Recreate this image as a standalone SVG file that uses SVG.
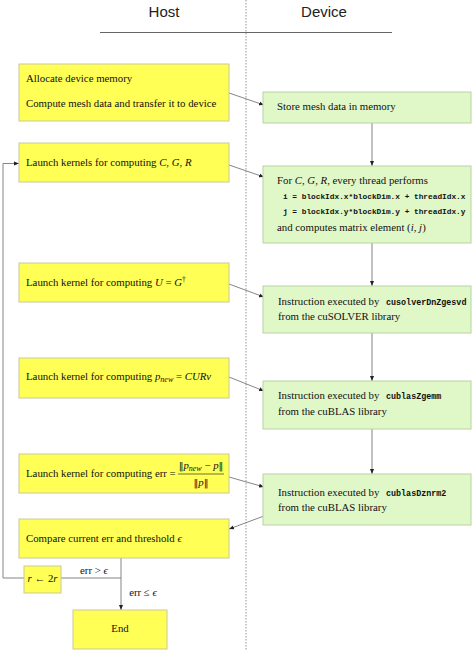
<svg xmlns="http://www.w3.org/2000/svg" width="474" height="651" viewBox="0 0 474 651">
<defs>
<marker id="ah" viewBox="0 0 10 10" refX="10" refY="5" markerWidth="5" markerHeight="5" orient="auto" markerUnits="userSpaceOnUse">
<path d="M0,1 L10,5 L0,9 z" fill="#222"/>
</marker>
</defs>
<style>
.host{fill:#ffff55;stroke:#c9c99a;stroke-width:1}
.dev{fill:#e0f7c8;stroke:#b9d3a3;stroke-width:1}
.t{font-family:"Liberation Serif","Times New Roman",serif;font-size:10.8px;fill:#111}
.m{font-family:"Liberation Mono","Courier New",monospace;font-size:7.8px;font-weight:bold;fill:#111}
.m2{font-family:"Liberation Mono","Courier New",monospace;font-size:8.4px;font-weight:bold;fill:#111}
.h{font-family:"Liberation Sans",Arial,sans-serif;font-size:15px;fill:#222}
.c{fill:none;stroke:#777;stroke-width:0.9}
.ca{fill:none;stroke:#777;stroke-width:0.9;marker-end:url(#ah)}
.n{font-family:"DejaVu Serif",serif;font-size:9.5px;font-weight:normal}
</style>
<g id="header">
<text class="h" x="164" y="17" text-anchor="middle">Host</text>
<text class="h" x="324" y="17" text-anchor="middle">Device</text>
<line x1="100" y1="32.5" x2="392" y2="32.5" stroke="#666" stroke-width="1"/>
<line x1="246" y1="0" x2="246" y2="651" stroke="#888" stroke-width="0.9" stroke-dasharray="1.5,1.5"/>
</g>
<g id="connectors">
<path class="ca" d="M229,93 L264,105"/>
<path class="ca" d="M229,165 L264,177"/>
<path class="ca" d="M229,284 L264,297"/>
<path class="ca" d="M229,377 L264,391"/>
<path class="ca" d="M229,477 L264,487"/>
<path class="ca" d="M264,516 L229,529"/>
<path class="ca" d="M372,123 L372,166"/>
<path class="ca" d="M372,243 L372,286"/>
<path class="ca" d="M372,333 L372,381"/>
<path class="ca" d="M372,429 L372,474"/>
<path class="c" d="M121,558 L121,578 L61,578"/>
<path class="ca" d="M24,578 L3,578 L3,163.5 L19,163.5"/>
<path class="ca" d="M121,578 L121,610"/>
<text class="t" x="94" y="574" text-anchor="middle">err &gt; <tspan font-style="italic">ϵ</tspan></text>
<text class="t" x="143" y="596" text-anchor="middle">err ≤ <tspan font-style="italic">ϵ</tspan></text>
</g>
<g id="n1">
<rect class="host" x="19" y="64" width="210" height="57"/>
<text class="t" x="26" y="82">Allocate device memory</text>
<text class="t" x="26" y="107">Compute mesh data and transfer it to device</text>
</g>
<g id="n2">
<rect class="host" x="19" y="143" width="210" height="39"/>
<text class="t" x="26" y="166">Launch kernels for computing <tspan font-style="italic">C</tspan>, <tspan font-style="italic">G</tspan>, <tspan font-style="italic">R</tspan></text>
</g>
<g id="n3">
<rect class="host" x="19" y="263" width="210" height="39"/>
<text class="t" x="26" y="286">Launch kernel for computing <tspan font-style="italic">U</tspan> = <tspan font-style="italic">G</tspan><tspan dy="-4" font-size="7.5">†</tspan></text>
</g>
<g id="n4">
<rect class="host" x="19" y="358" width="210" height="40"/>
<text class="t" x="26" y="380">Launch kernel for computing <tspan font-style="italic">p</tspan><tspan font-style="italic" font-size="8" dy="2">new</tspan><tspan dy="-2"> = </tspan><tspan font-style="italic">CURv</tspan></text>
</g>
<g id="n5">
<rect class="host" x="19" y="454" width="210" height="39"/>
<text class="t" x="26" y="477">Launch kernel for computing err =</text>
<text class="t" x="201" y="469" text-anchor="middle"><tspan class="n">‖</tspan><tspan font-style="italic">p</tspan><tspan font-style="italic" font-size="8" dy="2">new</tspan><tspan dy="-2"> − </tspan><tspan font-style="italic">p</tspan><tspan class="n">‖</tspan></text>
<line x1="178" y1="474" x2="224" y2="474" stroke="#111" stroke-width="0.6"/>
<text class="t" x="201" y="486" text-anchor="middle"><tspan class="n">‖</tspan><tspan font-style="italic">p</tspan><tspan class="n">‖</tspan></text>
</g>
<g id="n6">
<rect class="host" x="19" y="519" width="210" height="39"/>
<text class="t" x="26" y="542">Compare current err and threshold <tspan font-style="italic">ϵ</tspan></text>
</g>
<g id="n7">
<rect class="host" x="24" y="566" width="37" height="27"/>
<text class="t" x="42.5" y="582" text-anchor="middle"><tspan font-style="italic">r</tspan> ← 2<tspan font-style="italic">r</tspan></text>
</g>
<g id="n8">
<rect class="host" x="73" y="610" width="94" height="39"/>
<text class="t" x="120" y="632" text-anchor="middle">End</text>
</g>
<g id="d1">
<rect class="dev" x="263" y="92" width="208" height="31"/>
<text class="t" x="277" y="110">Store mesh data in memory</text>
</g>
<g id="d2">
<rect class="dev" x="263" y="166" width="208" height="77"/>
<text class="t" x="277" y="184">For <tspan font-style="italic">C</tspan>, <tspan font-style="italic">G</tspan>, <tspan font-style="italic">R</tspan>, every thread performs</text>
<text class="m" x="283" y="199">i = blockIdx.x*blockDim.x + threadIdx.x</text>
<text class="m" x="283" y="214">j = blockIdx.y*blockDim.y + threadIdx.y</text>
<text class="t" x="277" y="231">and computes matrix element (<tspan font-style="italic">i, j</tspan>)</text>
</g>
<g id="d3">
<rect class="dev" x="263" y="286" width="208" height="47"/>
<text class="t" x="278" y="305">Instruction executed by</text>
<text class="m2" x="386" y="305">cusolverDnZgesvd</text>
<text class="t" x="278" y="320">from the cuSOLVER library</text>
</g>
<g id="d4">
<rect class="dev" x="263" y="381" width="208" height="48"/>
<text class="t" x="278" y="399">Instruction executed by</text>
<text class="m2" x="386" y="399">cublasZgemm</text>
<text class="t" x="278" y="415">from the cuBLAS library</text>
</g>
<g id="d5">
<rect class="dev" x="263" y="474" width="208" height="51"/>
<text class="t" x="278" y="496">Instruction executed by</text>
<text class="m2" x="386" y="496">cublasDznrm2</text>
<text class="t" x="278" y="511">from the cuBLAS library</text>
</g>
</svg>
